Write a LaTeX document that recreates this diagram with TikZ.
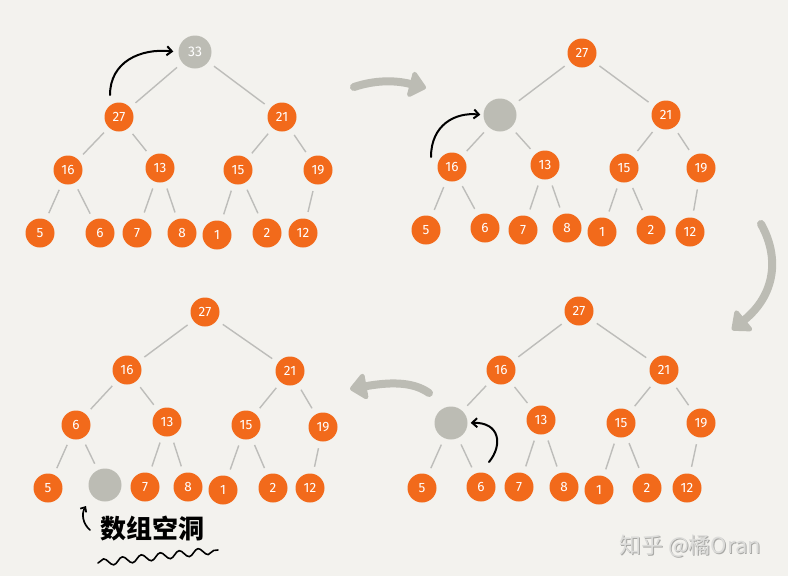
\documentclass[tikz,border=0pt]{standalone}
\usepackage{fontspec}
\setmainfont{Fira Sans}
\newfontfamily\cjk{Noto Sans CJK SC}
\usetikzlibrary{arrows.meta,decorations.pathmorphing}
\definecolor{bg}{HTML}{F3F2EE}
\definecolor{orn}{HTML}{F26A1B}
\definecolor{gnd}{HTML}{BCBCB4}
\definecolor{edg}{HTML}{BDBDBA}
\definecolor{wmk}{HTML}{DCDCDA}
\definecolor{wms}{HTML}{A9A9A6}
\begin{document}
\begin{tikzpicture}[x=1pt,y=-1pt,
  onode/.style={circle,fill=orn,minimum size=29pt,inner sep=0pt,text=white,font=\fontsize{13.5}{13.5}\selectfont},
  gnode/.style={circle,fill=gnd,minimum size=33pt,inner sep=0pt,text=white,font=\fontsize{14}{14}\selectfont},
  edge/.style={draw=edg,line width=1.4pt,shorten >=7pt,shorten <=7pt},
  harrow/.style={draw=black,line width=2pt,line cap=round,-{Straight Barb[length=5pt,width=9pt]}},
  bigarrow/.style={draw=gnd,line width=8pt,line cap=round,-{Triangle[length=18pt,width=30pt,round]}}
]
\fill[bg] (0,0) rectangle (788,576);
\useasboundingbox (0,0) rectangle (788,576);

% Tree A (top left)
\node[gnode] (A1) at (195,52) {33};
\node[onode] (A2) at (119,117) {27};
\node[onode] (A3) at (282,117) {21};
\node[onode] (A4) at (68,170) {16};
\node[onode] (A5) at (160,168) {13};
\node[onode] (A6) at (238,170) {15};
\node[onode] (A7) at (318,170) {19};
\node[onode] (A8) at (40,233) {5};
\node[onode] (A9) at (100,233) {6};
\node[onode] (A10) at (137,233) {7};
\node[onode] (A11) at (182,233) {8};
\node[onode] (A12) at (217,235) {1};
\node[onode] (A13) at (267,233) {2};
\node[onode] (A14) at (303,233) {12};

% Tree B (top right)
\node[onode] (B1) at (582,53) {27};
\node[gnode] (B2) at (500,115) {};
\node[onode] (B3) at (666,115) {21};
\node[onode] (B4) at (452,167) {16};
\node[onode] (B5) at (545,165) {13};
\node[onode] (B6) at (624,168) {15};
\node[onode] (B7) at (701,168) {19};
\node[onode] (B8) at (426,230) {5};
\node[onode] (B9) at (485,228) {6};
\node[onode] (B10) at (523,230) {7};
\node[onode] (B11) at (567,228) {8};
\node[onode] (B12) at (602,232) {1};
\node[onode] (B13) at (651,230) {2};
\node[onode] (B14) at (690,232) {12};

% Tree C (bottom left)
\node[onode] (C1) at (205,312) {27};
\node[onode] (C2) at (127,370) {16};
\node[onode] (C3) at (290,371) {21};
\node[onode] (C4) at (76,425) {6};
\node[onode] (C5) at (167,422) {13};
\node[onode] (C6) at (246,425) {15};
\node[onode] (C7) at (323,427) {19};
\node[onode] (C8) at (48,488) {5};
\node[gnode] (C9) at (105,485) {};
\node[onode] (C10) at (145,487) {7};
\node[onode] (C11) at (188,487) {8};
\node[onode] (C12) at (223,490) {1};
\node[onode] (C13) at (273,488) {2};
\node[onode] (C14) at (310,488) {12};

% Tree D (bottom right)
\node[onode] (D1) at (579,311) {27};
\node[onode] (D2) at (501,370) {16};
\node[onode] (D3) at (664,370) {21};
\node[gnode] (D4) at (451,423) {};
\node[onode] (D5) at (541,420) {13};
\node[onode] (D6) at (621,423) {15};
\node[onode] (D7) at (701,423) {19};
\node[onode] (D8) at (422,488) {5};
\node[onode] (D9) at (481,487) {6};
\node[onode] (D10) at (519,487) {7};
\node[onode] (D11) at (564,487) {8};
\node[onode] (D12) at (599,490) {1};
\node[onode] (D13) at (647,488) {2};
\node[onode] (D14) at (687,488) {12};

\foreach \t in {A,B,C,D}
  \foreach \p/\c in {1/2,1/3,2/4,2/5,3/6,3/7,4/8,4/9,5/10,5/11,6/12,6/13,7/14}
    \draw[edge] (\t\p) -- (\t\c);

% black hand arrows
\coordinate (a1s) at (110,95);
\draw[harrow,shorten >=5pt] (a1s) .. controls (110,62) and (140,48) .. (A1.west);
\coordinate (b1s) at (431,157);
\draw[harrow,shorten >=3pt] (b1s) .. controls (431,125) and (455,112) .. (B2.west);
\coordinate (d1s) at (489,462);
\draw[harrow,shorten >=3pt] (d1s) .. controls (503,445) and (500,422) .. (D4.east);

% big grey arrows between panels
\coordinate (g1s) at (354,87);
\coordinate (g1e) at (426,88);
\draw[bigarrow] (g1s) .. controls (375,80) and (395,80) .. (g1e);
\coordinate (g2s) at (761,224);
\coordinate (g2e) at (732,330);
\draw[bigarrow] (g2s) .. controls (780,258) and (775,295) .. (g2e);
\coordinate (g3s) at (429,393);
\coordinate (g3e) at (350,389);
\draw[bigarrow] (g3s) .. controls (415,383) and (395,381) .. (g3e);

% label
\node[font=\cjk\bfseries\fontsize{26}{26}\selectfont,text=black] (lbl) at (152,529) {数组空洞};
\coordinate (las) at (90,530);
\coordinate (lae) at (86,506);
\draw[draw=black,line width=1.7pt,line cap=round,-{Straight Barb[length=4pt,width=7pt]}] (las) .. controls (83,524) and (81,514) .. (lae);
\coordinate (ws) at (98,563);
\coordinate (we) at (218,550);
\draw[draw=black,line width=1.6pt,line cap=round,decorate,decoration={snake,segment length=19pt,amplitude=3.5pt}] (ws) -- (we);

% watermark
\node[font=\cjk\fontsize{22}{22}\selectfont,text=wms] (wm0) at (691,547) {知乎 @橘Oran};
\node[font=\cjk\fontsize{22}{22}\selectfont,text=wmk] (wm) at (690,546) {知乎 @橘Oran};
\end{tikzpicture}
\end{document}
